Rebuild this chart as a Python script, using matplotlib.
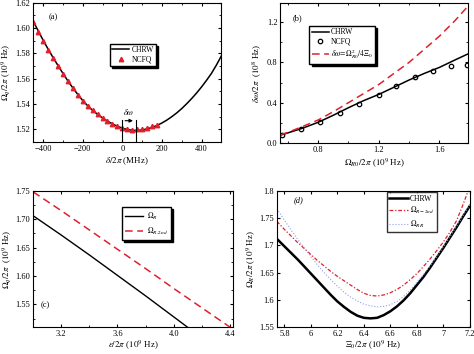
import matplotlib
matplotlib.use("Agg")
import matplotlib.pyplot as plt
from matplotlib.ticker import AutoMinorLocator

plt.rcParams['font.family'] = ['Liberation Serif', 'DejaVu Serif']
plt.rcParams['mathtext.fontset'] = 'stix'
plt.rcParams['font.size'] = 6

RED = '#e0202c'

# ---- panel (a)
a_chrw_x = [-450, -425, -400, -375, -350, -325, -300, -275, -250, -225, -200, -175, -150, -125, -100, -75, -50, -25,
            0, 25, 50, 75, 100, 125, 150, 175, 200, 225, 250, 275, 300, 325, 350, 375, 400, 425, 450, 475, 500]
a_chrw_y = [1.6055, 1.5980, 1.5905, 1.5835, 1.5768, 1.5705, 1.5643, 1.5583, 1.5528, 1.5476, 1.5428, 1.5386, 1.5350,
            1.5318, 1.5290, 1.5265, 1.5243, 1.5224, 1.5209, 1.5198, 1.5192, 1.5191, 1.5195, 1.5203, 1.5215, 1.5230,
            1.5250, 1.5273, 1.5300, 1.5330, 1.5364, 1.5402, 1.5443, 1.5487, 1.5535, 1.5587, 1.5642, 1.5708, 1.5780]
a_ncfq_x = [-450, -425, -400, -375, -350, -325, -300, -275, -250, -225, -200, -175, -150, -125, -100, -75, -50, -25,
            0, 25, 50, 75, 100, 125, 150, 175]
a_ncfq_y = [1.6047, 1.5970, 1.5896, 1.5830, 1.5764, 1.5703, 1.5639, 1.5578, 1.5525, 1.5472, 1.5425, 1.5385, 1.5351,
            1.5319, 1.5293, 1.5266, 1.5245, 1.5226, 1.5213, 1.5203, 1.5197, 1.5200, 1.5205, 1.5213, 1.5224, 1.5237]
a_dw = 68

# ---- panel (b)
b_chrw_x = [0.55, 0.6, 0.7, 0.8, 0.9, 1.0, 1.1, 1.2, 1.3, 1.4, 1.5, 1.6, 1.7, 1.79]
b_chrw_y = [0.077, 0.100, 0.148, 0.205, 0.275, 0.350, 0.420, 0.482, 0.553, 0.625, 0.690, 0.750, 0.822, 0.885]
b_ncfq_x = [0.563, 0.689, 0.815, 0.943, 1.068, 1.200, 1.316, 1.437, 1.556, 1.679, 1.782]
b_ncfq_y = [0.083, 0.143, 0.210, 0.293, 0.383, 0.477, 0.567, 0.650, 0.717, 0.760, 0.770]
b_appr_x = [0.55, 0.6, 0.7, 0.8, 0.9, 1.0, 1.1, 1.2, 1.3, 1.4, 1.5, 1.6, 1.7, 1.79]
b_appr_y = [0.080, 0.105, 0.165, 0.228, 0.310, 0.400, 0.490, 0.580, 0.690, 0.800, 0.930, 1.060, 1.210, 1.360]

# ---- panel (c)
c_x = [3.0, 3.2, 3.4, 3.6, 3.8, 4.0, 4.2, 4.4, 4.45]
c_r_y = [1.706, 1.672, 1.637, 1.601, 1.565, 1.528, 1.491, 1.454, 1.445]
c_r2_y = [1.748, 1.715, 1.681, 1.647, 1.613, 1.578, 1.544, 1.510, 1.501]

# ---- panel (d)
d_x = [5.742, 5.8, 5.85, 5.9, 5.95, 6.0, 6.05, 6.1, 6.15, 6.2, 6.25, 6.3, 6.35, 6.4, 6.45, 6.5, 6.55, 6.6,
       6.65, 6.7, 6.75, 6.8, 6.85, 6.9, 6.95, 7.0, 7.05, 7.1, 7.15, 7.2]
d_chrw_y = [1.712, 1.698, 1.686, 1.674, 1.661, 1.648, 1.635, 1.622, 1.609, 1.597, 1.587, 1.578, 1.571, 1.567,
            1.566, 1.567, 1.572, 1.579, 1.588, 1.599, 1.612, 1.627, 1.642, 1.659, 1.677, 1.695, 1.714, 1.733,
            1.753, 1.772]
d_r2_y = [1.744, 1.729, 1.717, 1.705, 1.694, 1.683, 1.672, 1.662, 1.652, 1.643, 1.635, 1.627, 1.619, 1.612,
          1.608, 1.607, 1.609, 1.613, 1.619, 1.627, 1.637, 1.648, 1.661, 1.675, 1.690, 1.706, 1.724, 1.745,
          1.775, 1.808]
d_rr_y = [1.767, 1.746, 1.728, 1.711, 1.695, 1.679, 1.664, 1.650, 1.637, 1.625, 1.614, 1.605, 1.598, 1.592,
          1.589, 1.587, 1.588, 1.591, 1.597, 1.606, 1.618, 1.632, 1.646, 1.662, 1.679, 1.697, 1.716, 1.735,
          1.755, 1.774]

fig = plt.figure(figsize=(4.74, 3.54), dpi=100)

def style(ax, top=True):
    ax.tick_params(direction='in', which='both', top=top, right=top, labelsize=6, pad=2, length=2.5)
    ax.tick_params(which='minor', length=1.5)
    for s in ax.spines.values():
        s.set_linewidth(0.8)

# (a)
ax = fig.add_axes([0.070, 0.599, 0.397, 0.393])
ax.plot(a_chrw_x, a_chrw_y, color='k', lw=1.1, label='CHRW')
ax.plot(a_ncfq_x, a_ncfq_y, ls='none', marker='^', ms=3.2, color=RED, label='NCFQ')
ax.set_xlim(-450, 500)
ax.set_ylim(1.51, 1.62)
ax.set_xticks([-400, -200, 0, 200, 400])
ax.set_yticks([1.52, 1.54, 1.56, 1.58, 1.60, 1.62])
ax.xaxis.set_minor_locator(AutoMinorLocator(2))
ax.yaxis.set_minor_locator(AutoMinorLocator(2))
ax.plot([0, 0], [1.51, 1.5275], color='k', lw=0.8)
ax.plot([a_dw, a_dw], [1.51, 1.5275], color='k', lw=0.8)
ax.annotate('', xy=(a_dw, 1.5268), xytext=(0, 1.5268),
            arrowprops=dict(arrowstyle='-|>', color='k', lw=0.8, mutation_scale=5))
ax.text(a_dw / 2, 1.530, r'$\delta\omega$', ha='center', va='bottom', fontsize=6)
ax.text(0.106, 0.9, '(a)', transform=ax.transAxes, ha='center', va='center', fontsize=6)
ax.set_xlabel(r'$\delta/2\pi$ (MHz)', fontsize=6.5, labelpad=2)
ax.set_ylabel(r'$\Omega_q/2\pi$ ($10^9$ Hz)', fontsize=6.5, labelpad=2)
ax.legend(loc='center', bbox_to_anchor=(0.53, 0.626), fontsize=5.5, frameon=True, fancybox=False,
          edgecolor='k', handlelength=2.2, borderpad=0.3, labelspacing=0.2, handletextpad=0.3,
          shadow={'color': 'k', 'ox': 1.5, 'oy': -1.5, 'alpha': 1})
style(ax)

# (b)
ax = fig.add_axes([0.591, 0.596, 0.397, 0.396])
ax.plot(b_chrw_x, b_chrw_y, color='k', lw=1.1, label='CHRW')
ax.plot(b_ncfq_x, b_ncfq_y, ls='none', marker='o', ms=3.2, mfc='none', mec='k', mew=0.9, label='NCFQ')
ax.plot(b_appr_x, b_appr_y, color=RED, lw=1.1, ls=(0, (5, 3)), label=r'$\delta\omega\!=\!\Omega^2_{R0}/4\Xi_0$')
ax.set_xlim(0.55, 1.79)
ax.set_ylim(0.0, 1.39)
ax.set_xticks([0.8, 1.2, 1.6])
ax.set_yticks([0.0, 0.4, 0.8, 1.2])
ax.xaxis.set_minor_locator(AutoMinorLocator(2))
ax.yaxis.set_minor_locator(AutoMinorLocator(2))
ax.text(0.09, 0.893, '(b)', transform=ax.transAxes, ha='center', va='center', fontsize=6)
ax.set_xlabel(r'$\Omega_{R0}/2\pi$ ($10^9$ Hz)', fontsize=6.5, labelpad=2)
ax.set_ylabel(r'$\delta\omega/2\pi$  ($10^8$ Hz)', fontsize=6.5, labelpad=2)
ax.legend(loc='center', bbox_to_anchor=(0.33, 0.70), fontsize=5.5, frameon=True, fancybox=False,
          edgecolor='k', handlelength=2.2, borderpad=0.3, labelspacing=0.2, handletextpad=0.3,
          shadow={'color': 'k', 'ox': 1.5, 'oy': -1.5, 'alpha': 1})
style(ax)

# (c)
ax = fig.add_axes([0.0700, 0.0760, 0.421, 0.385])
ax.plot(c_x, c_r_y, color='k', lw=1.0, label=r'$\Omega_R$')
ax.plot(c_x, c_r2_y, color=RED, lw=1.1, ls=(0, (5, 3)), label=r'$\Omega_{R\text{-}2nd}$')
ax.set_xlim(3.0, 4.42)
ax.set_ylim(1.51, 1.75)
ax.set_xticks([3.2, 3.6, 4.0, 4.4])
ax.set_yticks([1.55, 1.60, 1.65, 1.70, 1.75])
ax.xaxis.set_minor_locator(AutoMinorLocator(2))
ax.yaxis.set_minor_locator(AutoMinorLocator(2))
ax.text(0.06, 0.16, '(c)', transform=ax.transAxes, ha='center', va='center', fontsize=6)
ax.set_xlabel(r'$\varepsilon/2\pi$ ($10^9$ Hz)', fontsize=6.5, labelpad=1)
ax.set_ylabel(r'$\Omega_q/2\pi$  ($10^9$ Hz)', fontsize=6.5, labelpad=1)
ax.legend(loc='center', bbox_to_anchor=(0.567, 0.76), fontsize=5.5, frameon=True, fancybox=False,
          edgecolor='k', handlelength=2.4, borderpad=0.4, labelspacing=0.5, handletextpad=0.4,
          shadow={'color': 'k', 'ox': 1.5, 'oy': -1.5, 'alpha': 1})
style(ax)

# (d)
ax = fig.add_axes([0.584, 0.0760, 0.407, 0.385])
ax.plot(d_x, d_chrw_y, color='k', lw=1.8, label='CHRW')
ax.plot(d_x, d_r2_y, color=RED, lw=0.9, ls=(0, (3, 1.5, 1, 1.5)), label=r'$\Omega_{R-2nd}$')
ax.plot(d_x, d_rr_y, color='#8fa0e8', lw=0.8, ls=':', label=r'$\Omega_{RR}$')
ax.set_xlim(5.742, 7.2)
ax.set_ylim(1.55, 1.8)
ax.set_xticks([5.8, 6.0, 6.2, 6.4, 6.6, 6.8, 7.0, 7.2])
ax.set_xticklabels(['5.8', '6', '6.2', '6.4', '6.6', '6.8', '7', '7.2'])
ax.set_yticks([1.55, 1.6, 1.65, 1.7, 1.75, 1.8])
ax.set_yticklabels(['1.55', '1.6', '1.65', '1.7', '1.75', '1.8'])
ax.text(0.114, 0.934, '(d)', transform=ax.transAxes, ha='center', va='center', fontsize=6, style='italic')
ax.set_xlabel(r'$\Xi_0/2\pi$ ($10^9$ Hz)', fontsize=6.5, labelpad=1)
ax.set_ylabel(r'$\Omega_R/2\pi$ ($10^9$ Hz)', fontsize=6.5, labelpad=1)
ax.legend(loc='center', bbox_to_anchor=(0.70, 0.843), fontsize=5.5, frameon=True, fancybox=False,
          edgecolor='k', handlelength=2.4, borderpad=0.3, labelspacing=0.3, handletextpad=0.3)
style(ax)

fig.savefig('out.png', dpi=100)
